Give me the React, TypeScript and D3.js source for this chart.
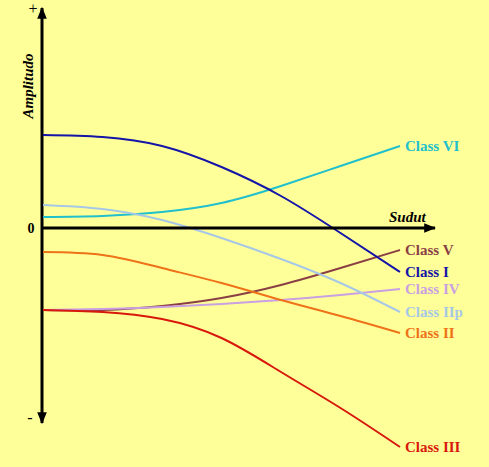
import { useEffect, useRef } from 'react';
import * as d3 from 'd3';

// angle samples (Sudut, degrees) shared by every class curve
const angles = [0, 15, 30, 45, 60, 75, 90];

const classNames = ['Class VI', 'Class V', 'Class I', 'Class IV', 'Class IIp', 'Class II', 'Class III'];
const classColors = ['#22bfcc', '#8a3f45', '#1414a8', '#c9a0e2', '#a6c8e6', '#ee7218', '#d8180c'];

// amplitude (0 = horizontal axis)
const classVI = [5.5, 6, 8, 12.5, 21, 31, 41];
const classV = [-41, -41, -39, -35, -28.5, -20, -11];
const classI = [46.5, 45.5, 41, 30.5, 16, -2.5, -22];
const classIV = [-41, -40.5, -39.5, -38, -36, -33.5, -30.5];
const classIIp = [11.5, 9.5, 4, -5, -15.5, -27.5, -42];
const classII = [-12, -13.5, -20, -27.5, -36, -44, -52.5];
const classIII = [-41, -42, -45.5, -55, -72, -90, -109.5];

const W = 489, H = 467;

export default function App() {
  const svgRef = useRef<SVGSVGElement>(null);

  useEffect(() => {
    if (!svgRef.current) return;
    const svg = d3.select(svgRef.current);
    svg.selectAll('*').remove();

    const x = d3.scaleLinear().domain([0, 90]).range([43, 400]);
    const y = d3.scaleLinear().domain([-100, 100]).range([428, 28]);
    const ax = 42, ay = y(0);

    svg.append('rect').attr('width', W).attr('height', H).attr('fill', '#ffff99');

    const defs = svg.append('defs');
    defs.append('marker').attr('id', 'arr').attr('viewBox', '0 0 10 10')
      .attr('refX', 9).attr('refY', 5).attr('markerWidth', 4).attr('markerHeight', 4)
      .attr('markerUnits', 'strokeWidth').attr('orient', 'auto-start-reverse')
      .append('path').attr('d', 'M0,1 L10,5 L0,9 Z').attr('fill', '#000');

    // vertical axis, arrows both ends
    svg.append('line').attr('x1', ax).attr('y1', 423).attr('x2', ax).attr('y2', 8)
      .attr('stroke', '#000').attr('stroke-width', 3)
      .attr('marker-start', 'url(#arr)').attr('marker-end', 'url(#arr)');

    const series = [classVI, classV, classI, classIV, classIIp, classII, classIII];
    const line = d3.line<number>().x((_, i) => x(angles[i])).y(d => y(d)).curve(d3.curveNatural);

    series.forEach((s, i) => {
      svg.append('path').datum(s).attr('d', line)
        .attr('fill', 'none').attr('stroke', classColors[i]).attr('stroke-width', 2);
      const last = s[s.length - 1];
      svg.append('text').attr('x', x(90) + 5).attr('y', y(last)).attr('dy', '0.35em')
        .attr('fill', classColors[i]).attr('font-family', 'Liberation Serif')
        .attr('font-weight', 'bold').attr('font-size', '15px')
        .text(classNames[i]);
    });

    // horizontal axis
    svg.append('line').attr('x1', ax).attr('y1', ay).attr('x2', 435).attr('y2', ay)
      .attr('stroke', '#000').attr('stroke-width', 3).attr('marker-end', 'url(#arr)');

    const txt = (tx: number, ty: number, s: string, size: number, style = 'normal', weight = 'normal') =>
      svg.append('text').attr('x', tx).attr('y', ty).attr('fill', '#000')
        .attr('font-family', 'Liberation Serif').attr('font-size', `${size}px`)
        .attr('font-style', style).attr('font-weight', weight).text(s);

    txt(389, 222, 'Sudut', 15, 'italic', 'bold');
    txt(31, ay + 5, '0', 14, 'normal', 'bold').attr('text-anchor', 'middle');
    txt(33, 14, '+', 16).attr('text-anchor', 'middle');
    txt(30, 423, '-', 16).attr('text-anchor', 'middle');
    txt(0, 0, 'Amplitudo', 15, 'italic', 'bold').attr('text-anchor', 'middle')
      .attr('transform', 'translate(33,86) rotate(-90)');
  }, []);

  return <svg ref={svgRef} width={W} height={H} viewBox={`0 0 ${W} ${H}`} style={{ display: 'block', position: 'absolute', left: 0, top: 0 }} />;
}
